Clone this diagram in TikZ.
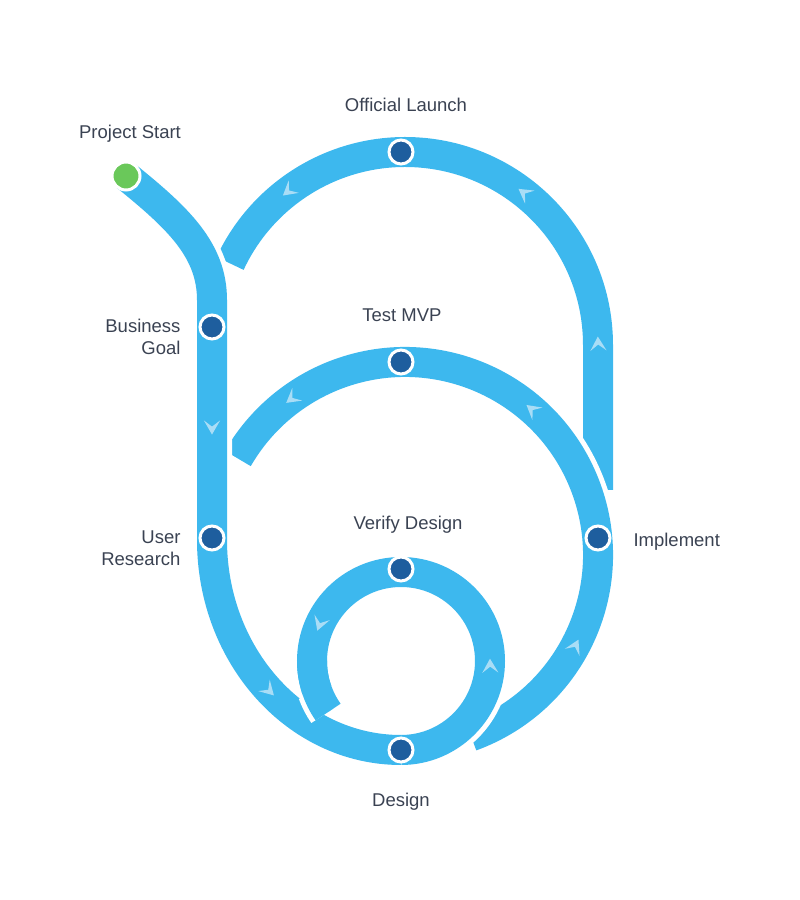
\documentclass[tikz,border=0pt]{standalone}
\usepackage{fontspec}
\setmainfont{Liberation Sans}
\usetikzlibrary{decorations.markings,arrows.meta}
\definecolor{track}{HTML}{3DB8EE}
\definecolor{chev}{HTML}{A9DDF6}
\definecolor{dot}{HTML}{1E5E9E}
\definecolor{txt}{HTML}{3A4252}
\definecolor{startgreen}{HTML}{6AC85A}
\tikzset{
  trackline/.style={draw=track,line width=30pt},
  casing/.style={draw=white,line width=40pt},
  marks/.style={postaction={decorate,decoration={markings,
    mark=at position #1 with {\arrow[chev]{Stealth[length=14pt,width=16pt,inset=6pt]}}}}},
  milestone/.style={circle,fill=dot,draw=white,line width=3pt,minimum size=24pt,inner sep=0pt},
  lbl/.style={text=txt,font=\fontsize{18.5}{22}\selectfont}
}
\begin{document}
\begin{tikzpicture}[x=1pt,y=1pt]
\useasboundingbox (0,0) rectangle (800,900);
% Official launch track
\draw[trackline,marks=.23,marks=.49,marks=.87] (598,410) -- (598,555) arc[start angle=0,end angle=155,radius=193];
% Test MVP track
\draw[casing] (405,345) ++(-70:193) arc[start angle=-70,end angle=150,radius=193];
\draw[trackline,marks=.2,marks=.55,marks=.9] (405,345) ++(-70:193) arc[start angle=-70,end angle=150,radius=193];
% inner circle
\draw[casing] (401,150) arc[start angle=270,end angle=575,radius=89];
\draw[trackline,marks=.3,marks=.82] (401,150) arc[start angle=270,end angle=575,radius=89];
% main track
\draw[casing] (126,724) .. controls (178,682) and (212,650) .. (212,600) -- (212,360)
  arc[start angle=180,end angle=270,x radius=189,y radius=210];
\draw[trackline,marks=.41,marks=.8] (126,724) .. controls (178,682) and (212,650) .. (212,600) -- (212,360)
  arc[start angle=180,end angle=270,x radius=189,y radius=210];
% inner circle tail over main track
\draw[casing] (401,239) ++(200:89) arc[start angle=200,end angle=215,radius=89];
\draw[trackline] (401,239) ++(180:89) arc[start angle=180,end angle=215,radius=89];
% nodes
\node[circle,fill=startgreen,draw=white,line width=3pt,minimum size=28pt,inner sep=0pt] (start) at (126,724) {};
\node[milestone] (launch) at (401,748) {};
\node[milestone] (goal) at (212,573) {};
\node[milestone] (mvp) at (401,538) {};
\node[milestone] (research) at (212,362) {};
\node[milestone] (verify) at (401,331) {};
\node[milestone] (impl) at (598,362) {};
\node[milestone] (design) at (401,150) {};
% labels
\node[lbl] at (406,795) {Official Launch};
\node[lbl] at (130,766) {Project Start};
\node[lbl,anchor=east,align=right] at (184,563) {Business\\Goal};
\node[lbl] at (402,585) {Test MVP};
\node[lbl,anchor=east,align=right] at (184,352) {User\\Research};
\node[lbl] at (408,375) {Verify Design};
\node[lbl,anchor=west] at (630,358) {Implement};
\node[lbl] at (401,98) {Design};
\end{tikzpicture}
\end{document}
